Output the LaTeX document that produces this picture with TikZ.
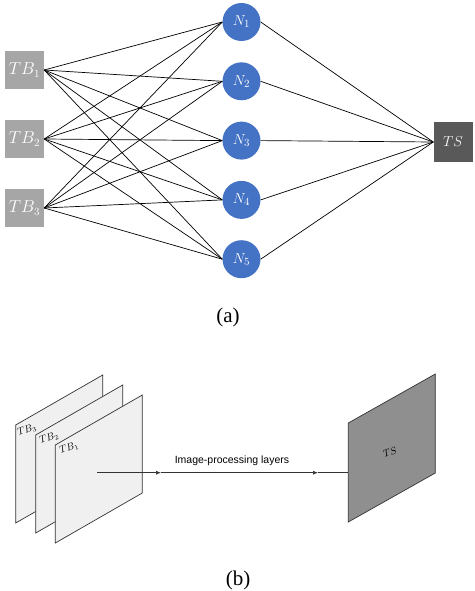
\documentclass[tikz,border=0pt]{standalone}
\usepackage{amsmath}
\usepackage{fontspec}
\setmainfont{Liberation Serif}
\newfontfamily\labelfont{Liberation Sans}
\usepackage{xcolor}
\usetikzlibrary{arrows.meta,calc}
\definecolor{tbgray}{HTML}{A6A6A6}
\definecolor{nblue}{HTML}{4472C4}
\definecolor{tsgray}{HTML}{595959}
\definecolor{sheet}{HTML}{F0F0F0}
\definecolor{tsplane}{HTML}{8F8F8F}
\tikzset{
	inbox/.style={fill=tbgray, text=white, minimum width=39pt, minimum height=38pt, inner sep=0pt, font=\fontsize{16}{18}\selectfont},
	neuron/.style={circle, fill=nblue, text=white, minimum size=38pt, inner sep=0pt, font=\fontsize{15}{17}\selectfont},
	outbox/.style={fill=tsgray, text=white, minimum width=39pt, minimum height=40pt, inner sep=0pt, font=\fontsize{15}{17}\selectfont},
	sheetlabel/.style={rotate=20, inner sep=0pt, font=\fontsize{10}{12}\selectfont},
	link/.style={draw=black, line width=0.7pt},
	plane/.style={draw=black!80, line width=0.7pt},
	caption/.style={font=\fontsize{21}{24}\selectfont}
}

\begin{document}
\begin{tikzpicture}[x=1pt, y=-1pt]

			\useasboundingbox (0,0) rectangle (474,591);

			% Define the inputs, the neurons and the output
			\foreach \i/\y in {1/70, 2/139, 3/208}
				\node[inbox] (tb\i) at (24.5,\y) {$TB_{\i}$};
			\foreach \i in {1,...,5}
				\node[neuron] (n\i) at (241.5,{22+59.3*(\i-1)}) {$N_{\i}$};
			\node[outbox] (ts) at (453,142) {$TS$};

			% Add the connections
			\foreach \i in {1,2,3}
				\foreach \j in {1,...,5}
					\draw[link] (tb\i.east) -- (n\j.west);
			\foreach \j in {1,...,5}
				\draw[link] (n\j.east) -- (ts.west);

			\node[caption] (capa) at (228,317) {(a)};

			% Define the sheets
			\foreach \i/\x/\y in {3/15.7/425, 2/35.7/435, 1/55.3/445}
				\filldraw[plane, fill=sheet] (\x,\y) -- ++(87,-50) -- ++(0,98) -- ++(-87,50) -- cycle;
			\foreach \i/\x/\y in {3/27/430, 2/49/438, 1/69/448}
				\node[sheetlabel] (s\i) at (\x,\y) {$TB_{\i}$};

			\filldraw[plane, fill=tsplane] (348.3,423) -- ++(87,-49) -- ++(0,99) -- ++(-87,49) -- cycle;
			\node[sheetlabel] (st) at (390,452) {$TS$};

			% Add the layers arrow
			\coordinate (start) at (97,472.7);
			\coordinate (mida) at (161,472.7);
			\coordinate (midb) at (318,472.7);
			\coordinate (stop) at (348.3,472.7);
			\draw[line width=0.7pt, black!80, -{Latex[length=5pt,width=4pt]}] (start) -- (mida);
			\draw[line width=0.7pt, black!80, -{Latex[length=5pt,width=4pt]}] (mida) -- (midb);
			\draw[line width=0.7pt, black!80] (midb) -- (stop);
			\node[font=\labelfont\fontsize{10.5}{12}\selectfont] (lay) at (232,461) {Image-processing layers};

			\node[caption] (capb) at (238,580) {(b)};

		\end{tikzpicture}
\end{document}
